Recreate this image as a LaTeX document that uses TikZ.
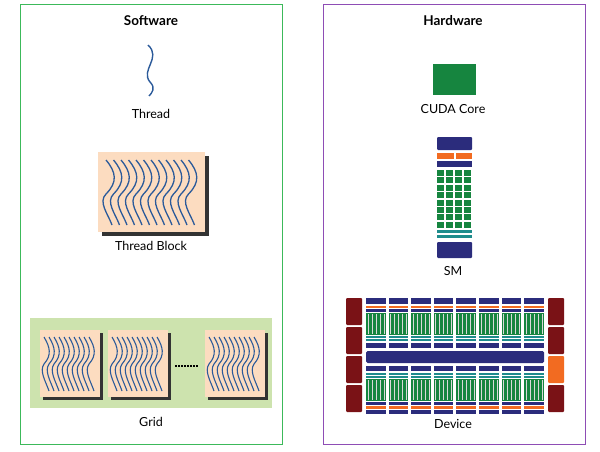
\documentclass[tikz,border=0pt]{standalone}
\usepackage{fontspec}
\setmainfont{Lato}
\begin{document}
\definecolor{sw}{HTML}{3CB95A}
\definecolor{hw}{HTML}{8E4DB5}
\definecolor{thr}{HTML}{2B5A9A}
\definecolor{peach}{HTML}{FCDCC0}
\definecolor{gridg}{HTML}{CDE3AE}
\definecolor{core}{HTML}{16853F}
\definecolor{navy}{HTML}{2B2C7C}
\definecolor{org}{HTML}{F26B21}
\definecolor{teal}{HTML}{1E8C8C}
\definecolor{dred}{HTML}{7A1216}
\begin{tikzpicture}[x=1pt,y=-1pt,
  panel/.style={line width=1pt},
  lbl/.style={font=\fontsize{12.5}{14}\selectfont,text=black},
  ttl/.style={font=\bfseries\fontsize{13.5}{16}\selectfont},
  wave/.style={thr,line width=1.4pt},
  blk/.style={fill=peach},
  shadow/.style={fill=black!80}]
\useasboundingbox (0,0) rectangle (600,452);
% panels
\draw[panel,sw] (20,5) rectangle (282,444);
\draw[panel,hw] (323,5) rectangle (585,444);
\node[ttl] (swt) at (151,21) {Software};
\node[ttl] (hwt) at (453,21) {Hardware};
% thread
\draw[wave] (148,45) .. controls (162,58) and (140,70) .. (150,82) .. controls (156,88) and (152,93) .. (149,96);
\node[lbl] (thread) at (151,114) {Thread};
% thread block
\fill[shadow] (102,156) rectangle (209,236);
\fill[blk] (98,152) rectangle (205,232);
\foreach \i in {0,...,11}{
  \draw[wave,line width=1.3pt] ({106+\i*7.5},160) .. controls ({116+\i*7.5},172) and ({118+\i*7.5},182) .. ({106+\i*7.5},194) .. controls ({98+\i*7.5},202) and ({108+\i*7.5},214) .. ({112+\i*7.5},225);
}
\node[lbl] (tblock) at (151,246) {Thread Block};
% grid
\fill[gridg] (30,318) rectangle (272,408);
\foreach \bx in {40,108,205}{
  \fill[shadow] (\bx+3,333) rectangle (\bx+63,400);
  \fill[blk] (\bx,330) rectangle (\bx+60,397);
  \foreach \i in {0,...,9}{
    \draw[wave,line width=1.1pt] ({\bx+4+\i*5},337) .. controls ({\bx+10+\i*5},347) and ({\bx+12+\i*5},355) .. ({\bx+4+\i*5},364) .. controls ({\bx-1+\i*5},371) and ({\bx+6+\i*5},382) .. ({\bx+9+\i*5},391);
  }
}
\draw[line width=1.6pt,dash pattern=on 1.6pt off 1.4pt] (175,366) -- (198,366);
\node[lbl] (grid) at (151,422) {Grid};
% CUDA core
\fill[core] (433,64) rectangle (476,95);
\node[lbl] (cuda) at (453,109) {CUDA Core};
% SM
\fill[navy,rounded corners=1pt] (437,137) rectangle (472,150);
\fill[org] (437,153) rectangle (454,159);
\fill[org] (456,153) rectangle (472,159);
\fill[navy] (437,161) rectangle (472,167);
\foreach \c in {0,...,3}{
  \foreach \r in {0,...,7}{
    \fill[core] ({437+\c*9},{170+\r*7.4}) rectangle ({444+\c*9},{176+\r*7.4});
  }
}
\fill[teal] (437,230) rectangle (472,233);
\fill[teal] (437,235) rectangle (472,238);
\fill[navy,rounded corners=1pt] (437,242) rectangle (472,258);
\node[lbl] (sm) at (453,271) {SM};
% Device
\foreach \k in {0,...,3}{
  \fill[dred,rounded corners=1pt] (346,{298+\k*29}) rectangle (362,{325+\k*29});
}
\foreach \k/\col in {0/dred,1/dred,2/org,3/dred}{
  \fill[\col,rounded corners=1pt] (548,{298+\k*29}) rectangle (564,{325+\k*29});
}
\fill[navy,rounded corners=1.5pt] (366,351) rectangle (544,363);
\foreach \j in {0,...,7}{
  \pgfmathsetmacro{\xa}{366+\j*22.6}
  \pgfmathsetmacro{\xb}{\xa+19.6}
  % top SM
  \fill[navy] (\xa,298) rectangle (\xb,304);
  \fill[org] (\xa,305.5) rectangle (\xb,308);
  \fill[navy] (\xa,309) rectangle (\xb,312);
  \fill[core] (\xa,313) rectangle (\xb,335);
  \foreach \s in {0,...,4}{\fill[white!70!gray] ({\xa+1.5+\s*4},314) rectangle ({\xa+2.1+\s*4},334);}
  \fill[teal] (\xa,336) rectangle (\xb,338);
  \fill[teal] (\xa,339) rectangle (\xb,341);
  \fill[navy] (\xa,343) rectangle (\xb,348);
  % bottom SM
  \fill[navy] (\xa,366) rectangle (\xb,371);
  \fill[teal] (\xa,373) rectangle (\xb,375);
  \fill[teal] (\xa,376) rectangle (\xb,378);
  \fill[core] (\xa,379) rectangle (\xb,401);
  \foreach \s in {0,...,4}{\fill[white!70!gray] ({\xa+1.5+\s*4},380) rectangle ({\xa+2.1+\s*4},400);}
  \fill[navy] (\xa,402) rectangle (\xb,405);
  \fill[org] (\xa,406) rectangle (\xb,408.5);
  \fill[navy] (\xa,410) rectangle (\xb,414);
}
\node[lbl] (device) at (453,424) {Device};
\end{tikzpicture}
\end{document}
